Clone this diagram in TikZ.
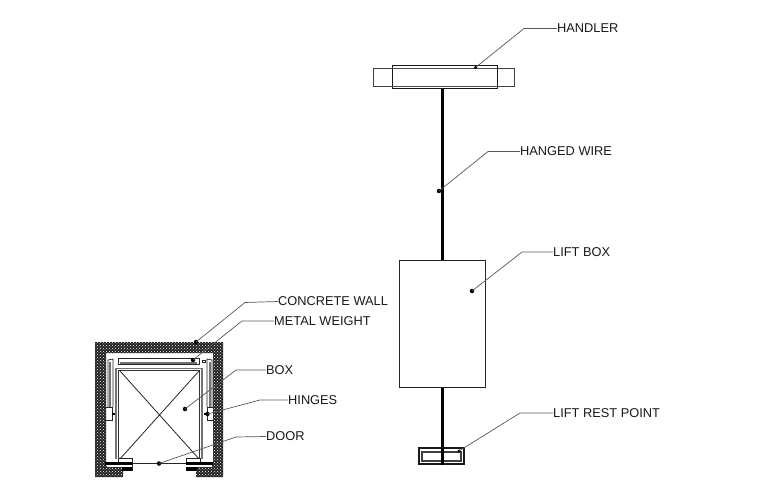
\documentclass[tikz,border=0pt]{standalone}
\usepackage{fontspec}
\setmainfont{Liberation Sans}
\usetikzlibrary{patterns}
\tikzset{
  lab/.style={anchor=west,inner sep=0pt,font=\fontsize{12.8}{14}\selectfont,text=black!90},
  pt/.style={circle,fill=black,inner sep=0pt,minimum size=4.5pt},
  lead/.style={draw=black!65,line width=0.7pt},
  ln/.style={draw=black!85,line width=0.9pt},
  grayln/.style={draw=black!55,line width=1.1pt},
  wire/.style={draw=black,line width=3.6pt},
  wallfill/.style={fill=black!88,postaction={pattern=crosshatch dots,pattern color=white}}
}
\begin{document}
\begin{tikzpicture}[x=1pt,y=-1pt]
\useasboundingbox (0,0) rectangle (768,497);
\fill[white] (0,0) rectangle (768,497);
% --- right: elevation
\draw[wire] (442.5,88) -- (442.5,260);
\draw[wire] (442.5,387) -- (442.5,465);
\node[draw=black!75,line width=0.9pt,fill=white,minimum width=19pt,minimum height=18pt,inner sep=0pt] (handL) at (382.5,77) {};
\node[draw=black!75,line width=0.9pt,fill=white,minimum width=17pt,minimum height=18pt,inner sep=0pt] (handR) at (505.5,77) {};
\node[draw=black!90,line width=0.9pt,fill=white,minimum width=105pt,minimum height=23pt,inner sep=0pt] (hand) at (444.5,77) {};
\draw[draw=black!70,line width=0.8pt] (392,68.3) -- (497,68.3) (392,86) -- (497,86);
\node[draw=black!85,line width=0.8pt,fill=white,minimum width=86pt,minimum height=127pt,inner sep=0pt] (liftbox) at (442,323.5) {};
\node[draw=black!90,line width=1.2pt,minimum width=45pt,minimum height=16pt,inner sep=0pt] (restO) at (441.5,456) {};
\node[draw=black!75,line width=1.2pt,minimum width=39pt,minimum height=9pt,inner sep=0pt] (restI) at (441.5,456.5) {};
\draw[wire] (442.5,448) -- (442.5,465);
% --- left: plan
\fill[wallfill] (95,342) -- (223,342) -- (223,477) -- (196,477) -- (196,462) -- (213,462) -- (213,353) -- (106,353) -- (106,462) -- (123,462) -- (123,477) -- (95,477) -- cycle;
% counterweight
\node[draw=black!85,line width=0.8pt,minimum width=81pt,minimum height=6pt,inner sep=0pt] (weight) at (158.5,361) {};
\draw[grayln] (120,363) -- (197,363);
\draw[ln,line width=0.6pt] (202,360) rectangle (205,362.5);
% rails
\draw[ln,line width=0.7pt] (108,407) -- (108,360) -- (113,359) -- (113,407);
\draw[grayln] (110,362) -- (110,407);
\draw[ln,line width=0.7pt] (212,407) -- (212,360) -- (207,359) -- (207,407);
\draw[grayln] (210,362) -- (210,407);
\draw[ln,line width=0.7pt] (106,407) -- (112,407) -- (112,420) -- (106,420);
\draw[ln,line width=0.7pt] (213,407) -- (207,407) -- (207,420) -- (213,420);
\draw[black,line width=1.3pt] (112,414) -- (116,414) (204,414) -- (208,414);
% car, open towards the door
\draw[draw=black!55,line width=1.6pt] (116,459) -- (116,368.5) -- (202,368.5) -- (202,459);
\draw[draw=black!80,line width=0.7pt] (118.5,459) -- (118.5,370.5) -- (199.5,370.5) -- (199.5,459);
\draw[ln,line width=0.8pt] (120,371) -- (200,460) (199,371) -- (119,460);
% jambs and door
\fill[white] (118,458) rectangle (132,462);
\draw[ln,line width=0.7pt] (118,462) -- (118,458.5) -- (132,458.5) -- (132,471);
\fill[black] (105,462) rectangle (132,465);
\fill[white] (107,465) rectangle (132,467);
\fill[black] (122,467) rectangle (132,470.5);
\fill[white] (186,458) rectangle (200,462);
\draw[ln,line width=0.7pt] (200,462) -- (200,458.5) -- (186,458.5) -- (186,471);
\fill[black] (186,462) rectangle (213,465);
\fill[white] (186,465) rectangle (212,467);
\fill[black] (186,467) rectangle (197,470.5);
\draw[ln,line width=1.1pt] (132,463.5) -- (186,463.5);
% --- labels and leaders
\node[lab] (tHandler) at (557,28.5) {HANDLER};
\node[lab] (tWire) at (520,151.5) {HANGED WIRE};
\node[lab] (tBox) at (553,252) {LIFT BOX};
\node[lab] (tRest) at (553,413) {LIFT REST POINT};
\node[lab] (tWall) at (278,301.5) {CONCRETE WALL};
\node[lab] (tMetal) at (274,321) {METAL WEIGHT};
\node[lab] (tCar) at (266,370) {BOX};
\node[lab] (tHinge) at (288,400) {HINGES};
\node[lab] (tDoor) at (266,436.5) {DOOR};
\node[pt,minimum size=3.5pt] (dHandler) at (475.5,67.5) {};
\node[pt] (dWire) at (439,191) {};
\node[pt] (dBox) at (472,291) {};
\node[pt,minimum size=3.5pt] (dRest) at (459,451) {};
\node[pt] (dWall) at (196,342) {};
\node[pt] (dMetal) at (193,360) {};
\node[pt] (dCar) at (185,409) {};
\node[pt] (dHinge) at (207.5,414) {};
\node[pt] (dDoor) at (159,463.5) {};
\coordinate (eHandler) at (524,28.5);
\coordinate (eWire) at (488,151.5);
\coordinate (eBox) at (522,252);
\coordinate (eRest) at (520,413);
\coordinate (eWall) at (245,302.5);
\coordinate (eMetal) at (242,321);
\coordinate (eCar) at (236,370);
\coordinate (eHinge) at (260,400);
\coordinate (eDoor) at (236,437);
\draw[lead] (dHandler.center) -- (eHandler) -- (tHandler.west);
\draw[lead] (dWire.center) -- (eWire) -- (tWire.west);
\draw[lead] (dBox.center) -- (eBox) -- (tBox.west);
\draw[lead] (dRest.center) -- (eRest) -- (tRest.west);
\draw[lead] (dWall.center) -- (eWall) -- (tWall.west);
\draw[lead] (dMetal.center) -- (eMetal) -- (tMetal.west);
\draw[lead] (dCar.center) -- (eCar) -- (tCar.west);
\draw[lead] (dHinge.center) -- (eHinge) -- (tHinge.west);
\draw[lead] (dDoor.center) -- (eDoor) -- (tDoor.west);
\end{tikzpicture}
\end{document}
